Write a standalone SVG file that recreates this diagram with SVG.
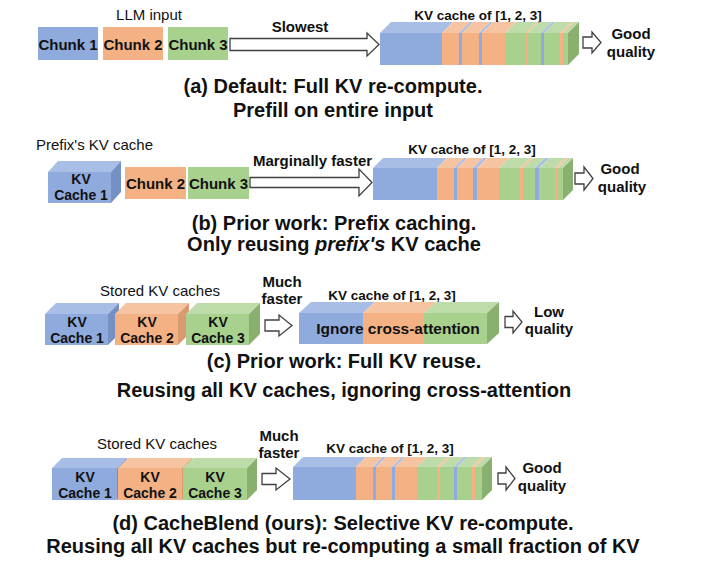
<svg xmlns="http://www.w3.org/2000/svg" width="720" height="570" viewBox="0 0 720 570">
<style>
text { font-family: "Liberation Sans", Arial, sans-serif; fill: #111; text-anchor: middle; }
.t { font-size: 15px; }
.bd { font-size: 15px; font-weight: bold; }
.cb { font-size: 14px; font-weight: bold; }
.kv { font-size: 13.5px; font-weight: bold; }
.cap { font-size: 20px; font-weight: bold; }
.bf { fill: #8faadc; } .bt { fill: #a9bee6; } .bs { fill: #7590c4; }
.of { fill: #f4b183; } .ot { fill: #f6c4a0; } .os { fill: #d89a6e; }
.gf { fill: #a9d18e; } .gt { fill: #bddcaa; } .gs { fill: #89b06e; }
.arr { fill: #fff; stroke: #404040; stroke-width: 1.3; stroke-linejoin: miter; }
</style>
<rect width="720" height="570" fill="#fff"/>

<!-- Panel (a) -->
<g id="a-input">
  <text class="t" x="149" y="20">LLM input</text>
  <rect class="bf" x="38" y="27" width="60" height="33"/>
  <rect class="of" x="103" y="27" width="60" height="33"/>
  <rect class="gf" x="168" y="27" width="60" height="33"/>
  <text class="bd" x="68" y="49.5">Chunk 1</text>
  <text class="bd" x="133" y="49.5">Chunk 2</text>
  <text class="bd" x="198" y="49.5">Chunk 3</text>
</g>
<g id="a-kv">
  <text class="kv" x="478" y="20">KV cache of [1, 2, 3]</text>
  <rect class="bf" x="380" y="33" width="62" height="32"/>
  <rect class="of" x="442" y="33" width="17" height="32"/>
  <rect class="bf" x="459" y="33" width="3" height="32"/>
  <rect class="of" x="462" y="33" width="17" height="32"/>
  <rect class="bf" x="479" y="33" width="3" height="32"/>
  <rect class="of" x="482" y="33" width="23" height="32"/>
  <rect class="gf" x="505" y="33" width="21" height="32"/>
  <rect class="of" x="526" y="33" width="2" height="32"/>
  <rect class="gf" x="528" y="33" width="13" height="32"/>
  <rect class="bf" x="541" y="33" width="3" height="32"/>
  <rect class="gf" x="544" y="33" width="16" height="32"/>
  <rect class="of" x="560" y="33" width="3" height="32"/>
  <rect class="gf" x="563" y="33" width="5" height="32"/>
  <polygon class="bt" points="380,33 442,33 453,22 391,22"/>
  <polygon class="ot" points="442,33 459,33 470,22 453,22"/>
  <polygon class="bt" points="459,33 462,33 473,22 470,22"/>
  <polygon class="ot" points="462,33 479,33 490,22 473,22"/>
  <polygon class="bt" points="479,33 482,33 493,22 490,22"/>
  <polygon class="ot" points="482,33 505,33 516,22 493,22"/>
  <polygon class="gt" points="505,33 526,33 537,22 516,22"/>
  <polygon class="ot" points="526,33 528,33 539,22 537,22"/>
  <polygon class="gt" points="528,33 541,33 552,22 539,22"/>
  <polygon class="bt" points="541,33 544,33 555,22 552,22"/>
  <polygon class="gt" points="544,33 560,33 571,22 555,22"/>
  <polygon class="ot" points="560,33 563,33 574,22 571,22"/>
  <polygon class="gt" points="563,33 568,33 579,22 574,22"/>
  <polygon class="gs" points="568,33 579,22 579,54 568,65"/>
</g>
<g id="a-result">
  <text class="bd" x="631" y="39">Good</text>
  <text class="bd" x="631" y="56.5">quality</text>
</g>
<g id="a-caption">
  <text class="cap" x="333" y="93">(a) Default: Full KV re-compute.</text>
  <text class="cap" x="333" y="117">Prefill on entire input</text>
</g>

<!-- Panel (b) -->
<g id="b-input">
  <text class="t" x="94.5" y="150">Prefix's KV cache</text>
  <rect class="bf" x="48" y="172" width="63" height="31"/>
  <polygon class="bt" points="48,172 111,172 121,161 58,161"/>
  <polygon class="bs" points="111,172 121,161 121,192 111,203"/>
  <text class="cb" x="81" y="184">KV</text>
  <text class="cb" x="81" y="200">Cache 1</text>
  <rect class="of" x="125" y="167" width="61" height="32"/>
  <rect class="gf" x="188" y="167" width="61" height="32"/>
  <text class="bd" x="155.5" y="189">Chunk 2</text>
  <text class="bd" x="218.5" y="189">Chunk 3</text>
</g>
<g id="b-kv">
  <text class="kv" x="472" y="154">KV cache of [1, 2, 3]</text>
  <rect class="bf" x="373" y="168" width="64" height="32"/>
  <rect class="of" x="437" y="168" width="17" height="32"/>
  <rect class="bf" x="454" y="168" width="3" height="32"/>
  <rect class="of" x="457" y="168" width="16" height="32"/>
  <rect class="bf" x="473" y="168" width="4" height="32"/>
  <rect class="of" x="477" y="168" width="22" height="32"/>
  <rect class="gf" x="499" y="168" width="21" height="32"/>
  <rect class="of" x="520" y="168" width="3" height="32"/>
  <rect class="gf" x="523" y="168" width="12" height="32"/>
  <rect class="bf" x="535" y="168" width="4" height="32"/>
  <rect class="gf" x="539" y="168" width="16" height="32"/>
  <rect class="of" x="555" y="168" width="3" height="32"/>
  <rect class="gf" x="558" y="168" width="5" height="32"/>
  <polygon class="bt" points="373,168 437,168 447,158 383,158"/>
  <polygon class="ot" points="437,168 454,168 464,158 447,158"/>
  <polygon class="bt" points="454,168 457,168 467,158 464,158"/>
  <polygon class="ot" points="457,168 473,168 483,158 467,158"/>
  <polygon class="bt" points="473,168 477,168 487,158 483,158"/>
  <polygon class="ot" points="477,168 499,168 509,158 487,158"/>
  <polygon class="gt" points="499,168 520,168 530,158 509,158"/>
  <polygon class="ot" points="520,168 523,168 533,158 530,158"/>
  <polygon class="gt" points="523,168 535,168 545,158 533,158"/>
  <polygon class="bt" points="535,168 539,168 549,158 545,158"/>
  <polygon class="gt" points="539,168 555,168 565,158 549,158"/>
  <polygon class="ot" points="555,168 558,168 568,158 565,158"/>
  <polygon class="gt" points="558,168 563,168 573,158 568,158"/>
  <polygon class="gs" points="563,168 573,158 573,190 563,200"/>
</g>
<g id="b-result">
  <text class="bd" x="620" y="174">Good</text>
  <text class="bd" x="622" y="191.5">quality</text>
</g>
<g id="b-caption">
  <text class="cap" x="334" y="230">(b) Prior work: Prefix caching.</text>
  <text class="cap" x="334" y="251">Only reusing <tspan font-style="italic">prefix's</tspan> KV cache</text>
</g>

<!-- Panel (c) -->
<g id="c-input">
  <text class="t" x="160" y="296">Stored KV caches</text>
  <rect class="bf" x="45" y="314" width="63" height="31"/>
  <polygon class="bt" points="45,314 108,314 119,303 56,303"/>
  <polygon class="bs" points="108,314 119,303 119,334 108,345"/>
  <rect class="of" x="115" y="314" width="63" height="31"/>
  <polygon class="ot" points="115,314 178,314 189,303 126,303"/>
  <polygon class="os" points="178,314 189,303 189,334 178,345"/>
  <rect class="gf" x="186" y="314" width="63" height="31"/>
  <polygon class="gt" points="186,314 249,314 260,303 197,303"/>
  <polygon class="gs" points="249,314 260,303 260,334 249,345"/>
  <text class="cb" x="77" y="327">KV</text>
  <text class="cb" x="77" y="343">Cache 1</text>
  <text class="cb" x="147" y="327">KV</text>
  <text class="cb" x="147" y="343">Cache 2</text>
  <text class="cb" x="218" y="327">KV</text>
  <text class="cb" x="218" y="343">Cache 3</text>
</g>
<g id="c-kv">
  <text class="kv" x="392" y="300">KV cache of [1, 2, 3]</text>
  <rect class="bf" x="299" y="313" width="64" height="31"/>
  <rect class="of" x="363" y="313" width="61" height="31"/>
  <rect class="gf" x="424" y="313" width="63" height="31"/>
  <polygon class="bt" points="299,313 363,313 375,302 311,302"/>
  <polygon class="ot" points="363,313 424,313 436,302 375,302"/>
  <polygon class="gt" points="424,313 487,313 499,302 436,302"/>
  <polygon class="gs" points="487,313 499,302 499,333 487,344"/>
  <text class="bd" x="398" y="334" style="font-size:15.5px">Ignore cross-attention</text>
</g>
<g id="c-result">
  <text class="bd" x="549" y="317">Low</text>
  <text class="bd" x="549" y="334">quality</text>
</g>
<g id="c-caption">
  <text class="cap" x="344" y="368">(c) Prior work: Full KV reuse.</text>
  <text class="cap" x="344" y="397">Reusing all KV caches, ignoring cross-attention</text>
</g>

<!-- Panel (d) -->
<g id="d-input">
  <text class="t" x="157" y="449">Stored KV caches</text>
  <rect class="bf" x="52" y="468" width="65" height="32"/>
  <polygon class="bt" points="52,468 117,468 127,458 62,458"/>
  <polygon class="bs" points="117,468 127,458 127,490 117,500"/>
  <rect class="of" x="118" y="468" width="64" height="32"/>
  <polygon class="ot" points="118,468 182,468 192,458 128,458"/>
  <polygon class="os" points="182,468 192,458 192,490 182,500"/>
  <rect class="gf" x="183" y="468" width="64" height="32"/>
  <polygon class="gt" points="183,468 247,468 257,458 193,458"/>
  <polygon class="gs" points="247,468 257,458 257,490 247,500"/>
  <text class="cb" x="85" y="482">KV</text>
  <text class="cb" x="85" y="498">Cache 1</text>
  <text class="cb" x="150" y="482">KV</text>
  <text class="cb" x="150" y="498">Cache 2</text>
  <text class="cb" x="215" y="482">KV</text>
  <text class="cb" x="215" y="498">Cache 3</text>
</g>
<g id="d-kv">
  <text class="kv" x="390" y="453">KV cache of [1, 2, 3]</text>
  <rect class="bf" x="293" y="467" width="63" height="33"/>
  <rect class="of" x="356" y="467" width="17" height="33"/>
  <rect class="bf" x="373" y="467" width="3" height="33"/>
  <rect class="of" x="376" y="467" width="16" height="33"/>
  <rect class="bf" x="392" y="467" width="3" height="33"/>
  <rect class="of" x="395" y="467" width="22" height="33"/>
  <rect class="gf" x="417" y="467" width="20" height="33"/>
  <rect class="of" x="437" y="467" width="3" height="33"/>
  <rect class="gf" x="440" y="467" width="14" height="33"/>
  <rect class="bf" x="454" y="467" width="3" height="33"/>
  <rect class="gf" x="457" y="467" width="15" height="33"/>
  <rect class="of" x="472" y="467" width="3" height="33"/>
  <rect class="gf" x="475" y="467" width="7" height="33"/>
  <polygon class="bt" points="293,467 356,467 366,457 303,457"/>
  <polygon class="ot" points="356,467 373,467 383,457 366,457"/>
  <polygon class="bt" points="373,467 376,467 386,457 383,457"/>
  <polygon class="ot" points="376,467 392,467 402,457 386,457"/>
  <polygon class="bt" points="392,467 395,467 405,457 402,457"/>
  <polygon class="ot" points="395,467 417,467 427,457 405,457"/>
  <polygon class="gt" points="417,467 437,467 447,457 427,457"/>
  <polygon class="ot" points="437,467 440,467 450,457 447,457"/>
  <polygon class="gt" points="440,467 454,467 464,457 450,457"/>
  <polygon class="bt" points="454,467 457,467 467,457 464,457"/>
  <polygon class="gt" points="457,467 472,467 482,457 467,457"/>
  <polygon class="ot" points="472,467 475,467 485,457 482,457"/>
  <polygon class="gt" points="475,467 482,467 492,457 485,457"/>
  <polygon class="gs" points="482,467 492,457 492,490 482,500"/>
</g>
<g id="d-result">
  <text class="bd" x="542" y="473">Good</text>
  <text class="bd" x="542" y="491">quality</text>
</g>
<g id="d-caption">
  <text class="cap" x="343" y="530">(d) CacheBlend (ours): Selective KV re-compute.</text>
  <text class="cap" x="343" y="553">Reusing all KV caches but re-computing a small fraction of KV</text>
</g>

<!-- Connectors -->
<g id="connectors">
  <path class="arr" d="M230,38.5 L367,38.5 L367,33 L379,44.5 L367,56 L367,50.5 L230,50.5 Z"/>
  <text class="bd" x="300" y="32">Slowest</text>
  <path class="arr" d="M583,37 L592,37 L592,32 L601,42.5 L592,53 L592,48 L583,48 Z"/>

  <path class="arr" d="M250,177.5 L359,177.5 L359,169 L372,182.5 L359,196 L359,187.5 L250,187.5 Z"/>
  <text class="bd" x="312.5" y="166">Marginally faster</text>
  <path class="arr" d="M575,173 L584,173 L584,167 L593,178.5 L584,190 L584,184 L575,184 Z"/>

  <path class="arr" d="M265,320 L279,320 L279,315 L292,325.5 L279,336 L279,331 L265,331 Z"/>
  <text class="bd" x="282" y="287">Much</text>
  <text class="bd" x="282" y="303.5">faster</text>
  <path class="arr" d="M505,316.5 L513,316.5 L513,311 L522,322 L513,333 L513,327.5 L505,327.5 Z"/>

  <path class="arr" d="M262,473.5 L276,473.5 L276,468 L290,479 L276,490 L276,484.5 L262,484.5 Z"/>
  <text class="bd" x="279" y="440.5">Much</text>
  <text class="bd" x="279" y="457.5">faster</text>
  <path class="arr" d="M498,473 L506,473 L506,467 L515,478.5 L506,490 L506,484 L498,484 Z"/>
</g>
</svg>
